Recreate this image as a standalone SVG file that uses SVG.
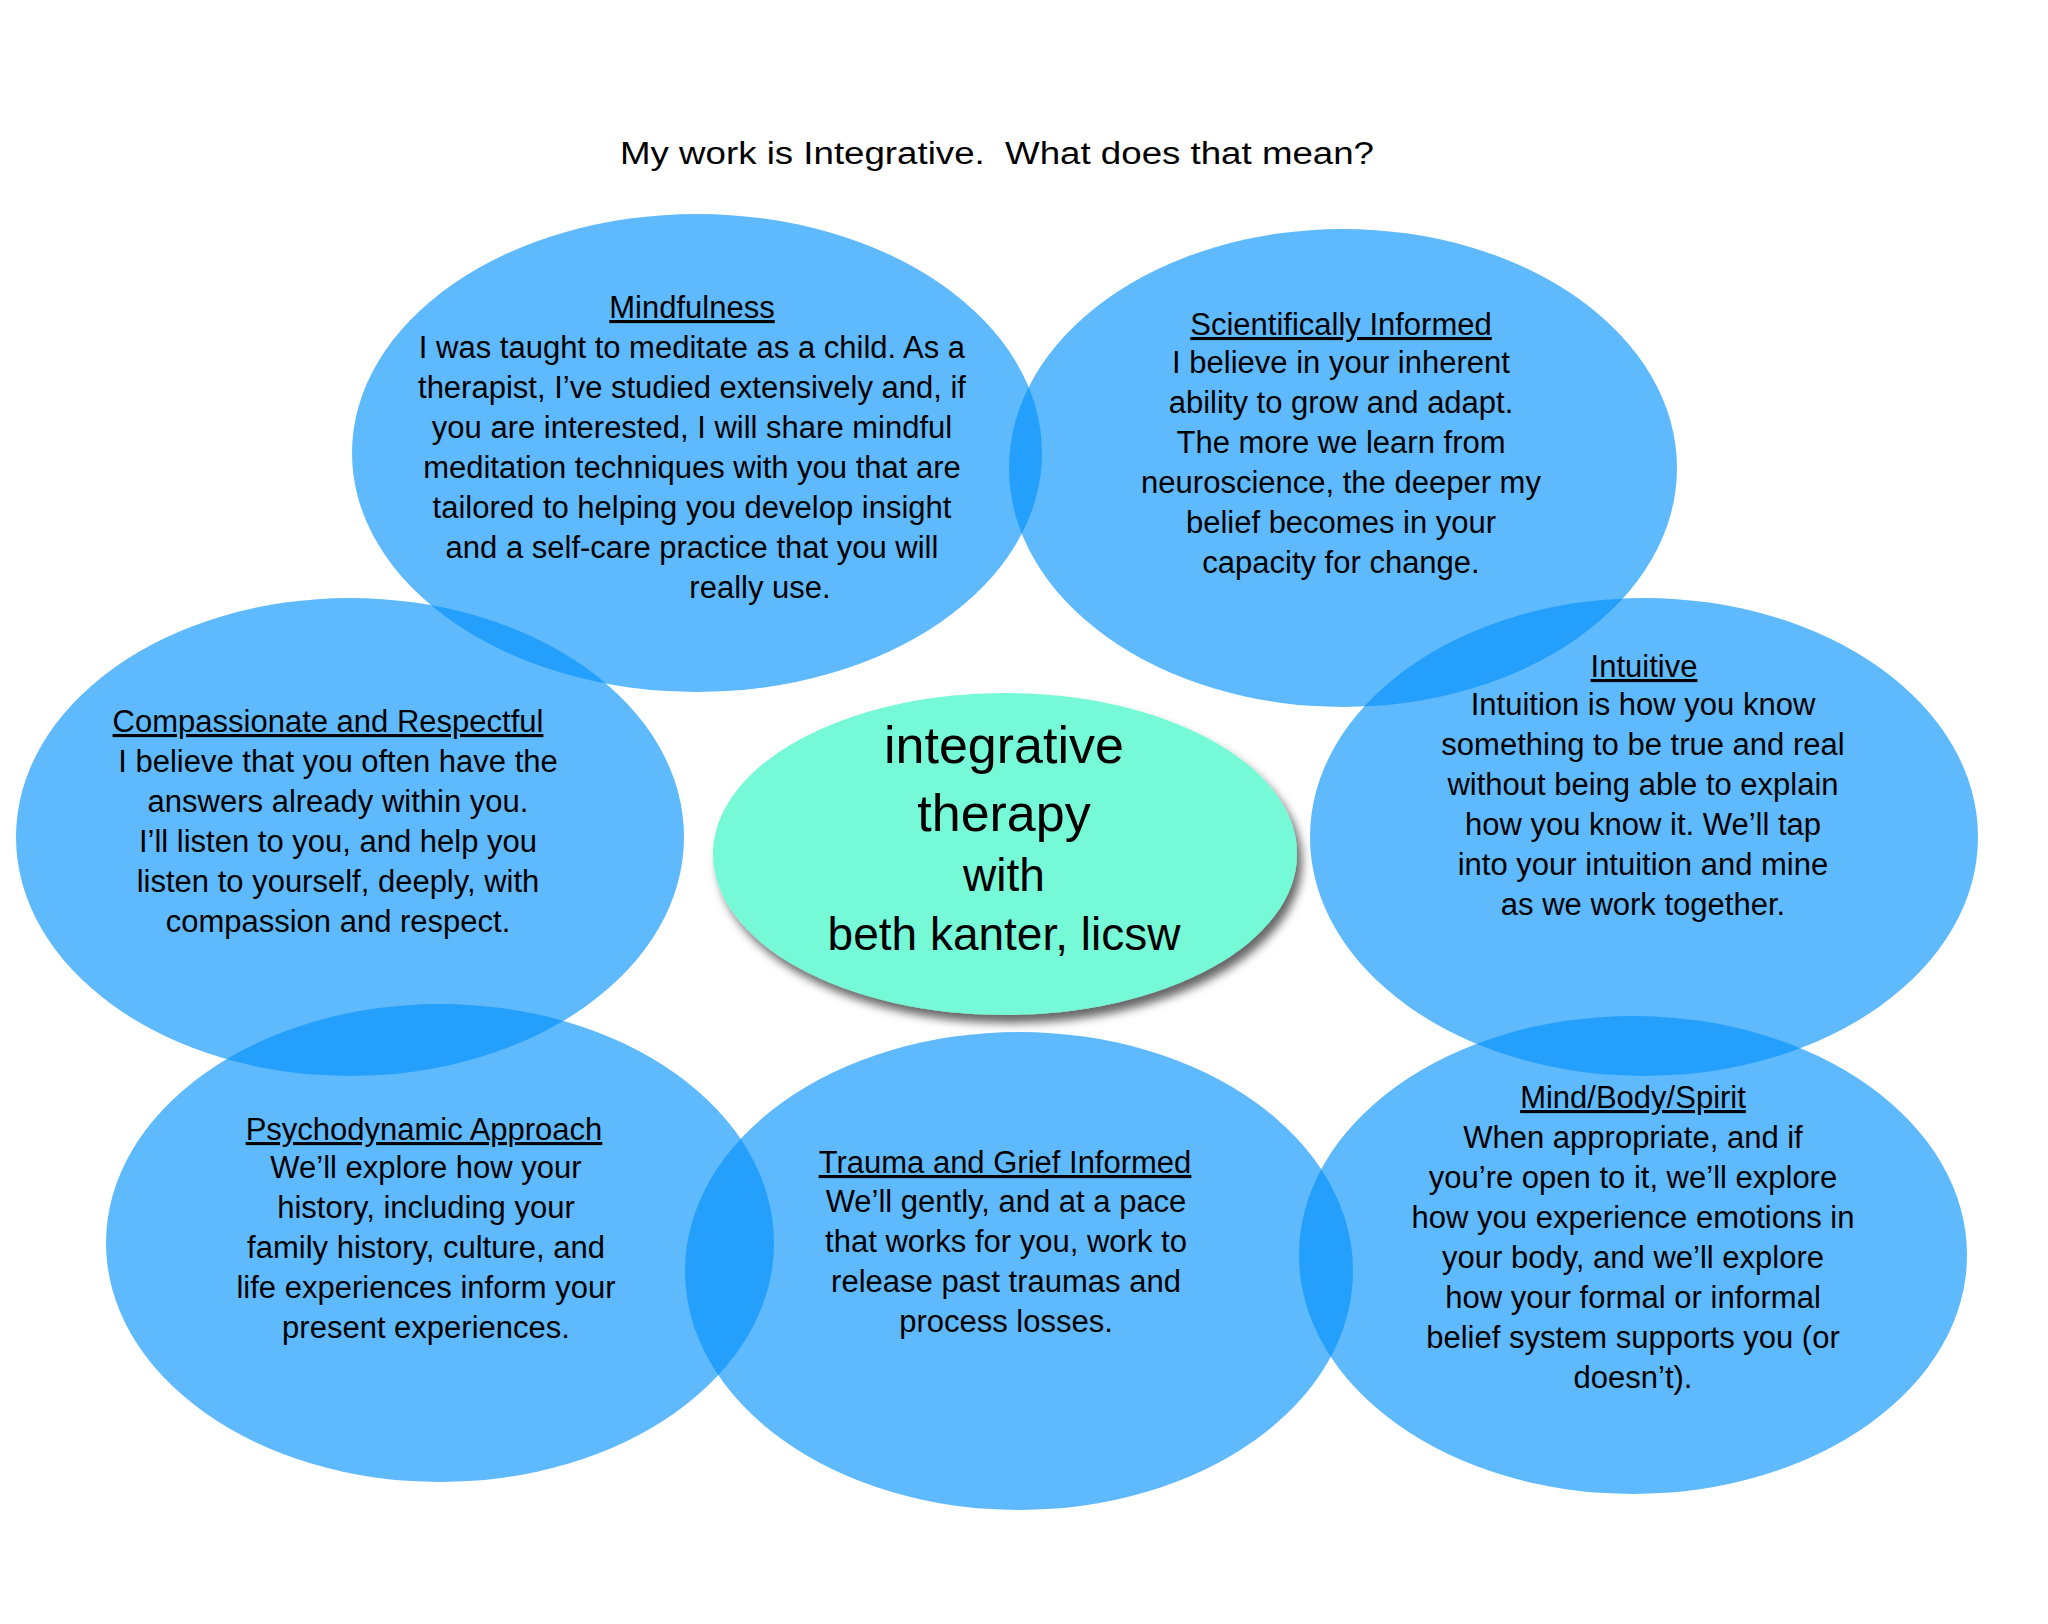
<svg xmlns="http://www.w3.org/2000/svg" width="2048" height="1624" viewBox="0 0 2048 1624">
<style>
  .bubble { fill: #0392FC; fill-opacity: 0.64; }
  .t { font-family: "Liberation Sans", Arial, sans-serif; font-size: 31px; fill: #000; text-anchor: middle; }
  .h { text-decoration: underline; }
  .c { font-family: "Liberation Sans", Arial, sans-serif; fill: #000; text-anchor: middle; }
</style>
<defs>
  <filter id="shadow" x="-10%" y="-10%" width="125%" height="130%">
    <feDropShadow dx="5" dy="8" stdDeviation="5" flood-color="#000" flood-opacity="0.6"/>
  </filter>
</defs>
<rect x="0" y="0" width="2048" height="1624" fill="#ffffff"/>

<text id="title" class="t" x="997" y="164" font-size="38" xml:space="preserve" textLength="754" lengthAdjust="spacingAndGlyphs">My work is Integrative.  What does that mean?</text>

<g id="mindfulness">
  <ellipse class="bubble" cx="697" cy="453" rx="345" ry="239"/>
  <text class="t h" x="692" y="318">Mindfulness</text>
  <text class="t" x="692" y="358">I was taught to meditate as a child. As a</text>
  <text class="t" x="692" y="398">therapist, I’ve studied extensively and, if</text>
  <text class="t" x="692" y="438">you are interested, I will share mindful</text>
  <text class="t" x="692" y="478">meditation techniques with you that are</text>
  <text class="t" x="692" y="518">tailored to helping you develop insight</text>
  <text class="t" x="692" y="558">and a self-care practice that you will</text>
  <text class="t" x="760" y="598">really use.</text>
</g>

<g id="scientifically-informed">
  <ellipse class="bubble" cx="1343" cy="468" rx="334" ry="239"/>
  <text class="t h" x="1341" y="335">Scientifically Informed</text>
  <text class="t" x="1341" y="373">I believe in your inherent</text>
  <text class="t" x="1341" y="413">ability to grow and adapt.</text>
  <text class="t" x="1341" y="453">The more we learn from</text>
  <text class="t" x="1341" y="493">neuroscience, the deeper my</text>
  <text class="t" x="1341" y="533">belief becomes in your</text>
  <text class="t" x="1341" y="573">capacity for change.</text>
</g>

<g id="compassionate">
  <ellipse class="bubble" cx="350" cy="837" rx="334" ry="239"/>
  <text class="t h" x="328" y="732">Compassionate and Respectful</text>
  <text class="t" x="338" y="772">I believe that you often have the</text>
  <text class="t" x="338" y="812">answers already within you.</text>
  <text class="t" x="338" y="852">I’ll listen to you, and help you</text>
  <text class="t" x="338" y="892">listen to yourself, deeply, with</text>
  <text class="t" x="338" y="932">compassion and respect.</text>
</g>

<g id="intuitive">
  <ellipse class="bubble" cx="1644" cy="837" rx="334" ry="239"/>
  <text class="t h" x="1644" y="677">Intuitive</text>
  <text class="t" x="1643" y="715">Intuition is how you know</text>
  <text class="t" x="1643" y="755">something to be true and real</text>
  <text class="t" x="1643" y="795">without being able to explain</text>
  <text class="t" x="1643" y="835">how you know it. We’ll tap</text>
  <text class="t" x="1643" y="875">into your intuition and mine</text>
  <text class="t" x="1643" y="915">as we work together.</text>
</g>

<g id="psychodynamic">
  <ellipse class="bubble" cx="440" cy="1243" rx="334" ry="239"/>
  <text class="t h" x="424" y="1140">Psychodynamic Approach</text>
  <text class="t" x="426" y="1178">We’ll explore how your</text>
  <text class="t" x="426" y="1218">history, including your</text>
  <text class="t" x="426" y="1258">family history, culture, and</text>
  <text class="t" x="426" y="1298">life experiences inform your</text>
  <text class="t" x="426" y="1338">present experiences.</text>
</g>

<g id="trauma-grief">
  <ellipse class="bubble" cx="1019" cy="1271" rx="334" ry="239"/>
  <text class="t h" x="1005" y="1173">Trauma and Grief Informed</text>
  <text class="t" x="1006" y="1212">We’ll gently, and at a pace</text>
  <text class="t" x="1006" y="1252">that works for you, work to</text>
  <text class="t" x="1006" y="1292">release past traumas and</text>
  <text class="t" x="1006" y="1332">process losses.</text>
</g>

<g id="mind-body-spirit">
  <ellipse class="bubble" cx="1633" cy="1255" rx="334" ry="239"/>
  <text class="t h" x="1633" y="1108">Mind/Body/Spirit</text>
  <text class="t" x="1633" y="1148">When appropriate, and if</text>
  <text class="t" x="1633" y="1188">you’re open to it, we’ll explore</text>
  <text class="t" x="1633" y="1228">how you experience emotions in</text>
  <text class="t" x="1633" y="1268">your body, and we’ll explore</text>
  <text class="t" x="1633" y="1308">how your formal or informal</text>
  <text class="t" x="1633" y="1348">belief system supports you (or</text>
  <text class="t" x="1633" y="1388">doesn’t).</text>
</g>

<g id="center">
  <ellipse cx="1005" cy="854" rx="292" ry="161" fill="#75F9D6" filter="url(#shadow)"/>
  <text class="c" x="1004" y="763" font-size="52">integrative</text>
  <text class="c" x="1004" y="831" font-size="52">therapy</text>
  <text class="c" x="1004" y="891" font-size="46">with</text>
  <text class="c" x="1004" y="950" font-size="46">beth kanter, licsw</text>
</g>
</svg>
